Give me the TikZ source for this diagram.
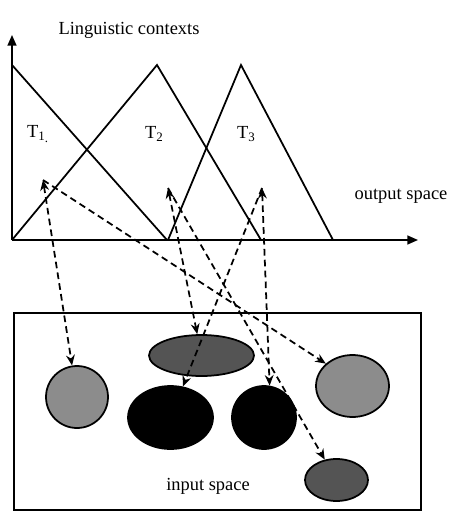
\documentclass[tikz,border=0pt]{standalone}
\usepackage{fontspec}
\setmainfont{Liberation Serif}
\usetikzlibrary{arrows.meta,positioning,shapes.geometric}

\begin{document}
\begin{tikzpicture}[
    x=0.02cm, y=-0.02cm,
    >={Stealth[length=6pt, width=5pt]},
    line/.style={line width=1pt},
    axis/.style={line width=1pt, -{Triangle[length=6pt, width=5pt]}},
    link/.style={line width=1pt, dash pattern=on 3.8pt off 2.4pt, ->},
    cluster/.style={draw, ellipse, line width=1pt, inner sep=0pt},
    lbl/.style={font=\fontsize{10.5}{12}\selectfont, inner sep=1pt}
]
\useasboundingbox (0,0) rectangle (474,513);

% Output space
\coordinate (o) at (12,240);
\coordinate (ytop) at (12,35);
\coordinate (xend) at (418,240);
\draw[axis] (o) -- (ytop);
\draw[axis] (o) -- (xend);
\node[lbl] (ling) at (129,30) {Linguistic contexts};
\node[lbl] (out) at (401,196) {output space};

% Membership functions
\draw[line] (12,65) -- (167,240);
\draw[line] (o) -- (157,65) -- (261,240);
\draw[line] (168,240) -- (241,65) -- (333,240);
\node[lbl, anchor=west] (t1) at (25,134) {T\textsubscript{1\raisebox{-1.5pt}{.}}};
\node[lbl, anchor=west] (t2) at (143,134) {T\textsubscript{2}};
\node[lbl, anchor=west] (t3) at (235,134) {T\textsubscript{3}};

% Input space
\node[draw, line width=1pt, minimum width=8.14cm, minimum height=3.94cm] (space) at (217.5,411.5) {};
\node[lbl] (in) at (208,486) {input space};
\node[cluster, fill=black!45, minimum width=1.24cm, minimum height=1.24cm] (lgray) at (77,397) {};
\node[cluster, fill=black!67, minimum width=2.1cm, minimum height=0.82cm] (topdark) at (201.5,355.5) {};
\node[cluster, fill=black, minimum width=1.7cm, minimum height=1.26cm] (lblack) at (170.5,417.5) {};
\node[cluster, fill=black, minimum width=1.28cm, minimum height=1.26cm] (rblack) at (264,417.5) {};
\node[cluster, fill=black!45, minimum width=1.46cm, minimum height=1.24cm] (rgray) at (352.5,386) {};
\node[cluster, fill=black!67, minimum width=1.26cm, minimum height=0.84cm] (bdark) at (336.5,480) {};

% Mappings
\coordinate (p1) at (43,180);
\coordinate (p2) at (168,188);
\coordinate (p3) at (262,188);
\draw[link, <->] (p1) -- (lgray);
\draw[link] (p1) -- (rgray.140);
\draw[link, <->] (p2) -- (topdark);
\draw[link] (p2) -- (bdark);
\draw[link] (p3) -- (lblack);
\draw[link, <->] (p3) -- (rblack.80);

\end{tikzpicture}
\end{document}
